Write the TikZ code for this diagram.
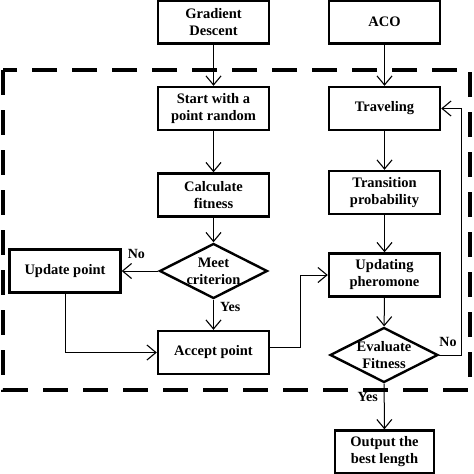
\documentclass[tikz,border=0pt]{standalone}
\usepackage{fontspec}
\setmainfont{Liberation Serif}
\usetikzlibrary{shapes.geometric,arrows.meta}
\tikzset{
  box/.style={draw,line width=2.4pt,minimum width=111pt,minimum height=43pt,
    inner sep=0pt,align=center,font=\bfseries\fontsize{14.5}{17}\selectfont},
  dia/.style={draw,diamond,line width=2.4pt,minimum width=108pt,minimum height=55pt,inner sep=0pt},
  txt/.style={inner sep=0pt,align=center,font=\bfseries\fontsize{14.5}{17}\selectfont},
  lbl/.style={inner sep=0pt,font=\bfseries\fontsize{14}{16}\selectfont}
}
\begin{document}
\begin{tikzpicture}[x=1pt,y=-1pt,>={Straight Barb[length=9pt,width=15pt,line width=1.1pt]}]
      \useasboundingbox (0,0) rectangle (474,474);
      \draw[line width=3.5pt,dash pattern=on 25pt off 15pt] (3,70) rectangle (470,390);
      \node[box] (grad) at (213.5,22) {Gradient\\Descent};
      \node[box] (aco) at (384.5,22) {ACO};
      \node[box] (start) at (213.5,108.5) {Start with a\\point random};
      \node[box] (trav) at (384.5,108.5) {Traveling};
      \node[box] (calc) at (213.5,195) {Calculate\\fitness};
      \node[box] (trans) at (384.5,192.5) {Transition\\probability};
      \node[dia] (meet) at (213.5,271) {};
      \node[txt] (meettxt) at (meet.center) {Meet\\criterion};
      \node[box] (upd) at (65,271) {Update point};
      \node[box] (pher) at (384.5,275) {Updating\\pheromone};
      \node[box] (acc) at (213.5,352.5) {Accept point};
      \node[dia] (eval) at (384,355) {};
      \node[txt] (evaltxt) at (eval.center) {Evaluate\\Fitness};
      \node[box,minimum width=99pt] (out) at (384.5,452) {Output the\\best length};
      \coordinate (jA) at (300,347);
      \coordinate (jB) at (461,355);
      \begin{scope}[->,line width=1pt]
        \draw (grad) to (start);
        \draw (aco) to (trav);
        \draw (start) to (calc);
        \draw (calc) to (meet);
        \draw (trav) to (trans);
        \draw (trans) to (pher);
        \draw (pher) to (eval);
        \draw (meet) to node[lbl,above=12pt,pos=0.6] {No} (upd);
        \draw (meet) to node[lbl,right=6pt,pos=0.25] {Yes} (acc);
        \draw (upd.south) |- (acc.west);
        \draw (acc.east |- jA) -- (jA) |- (pher.west);
        \draw (eval.east) -- (jB) |- (trav.east);
        \draw (eval) to node[lbl,left=6pt,pos=0.3] {Yes} (out);
      \end{scope}
      \node[lbl] (evalno) at (448,342) {No};
    \end{tikzpicture}
\end{document}
